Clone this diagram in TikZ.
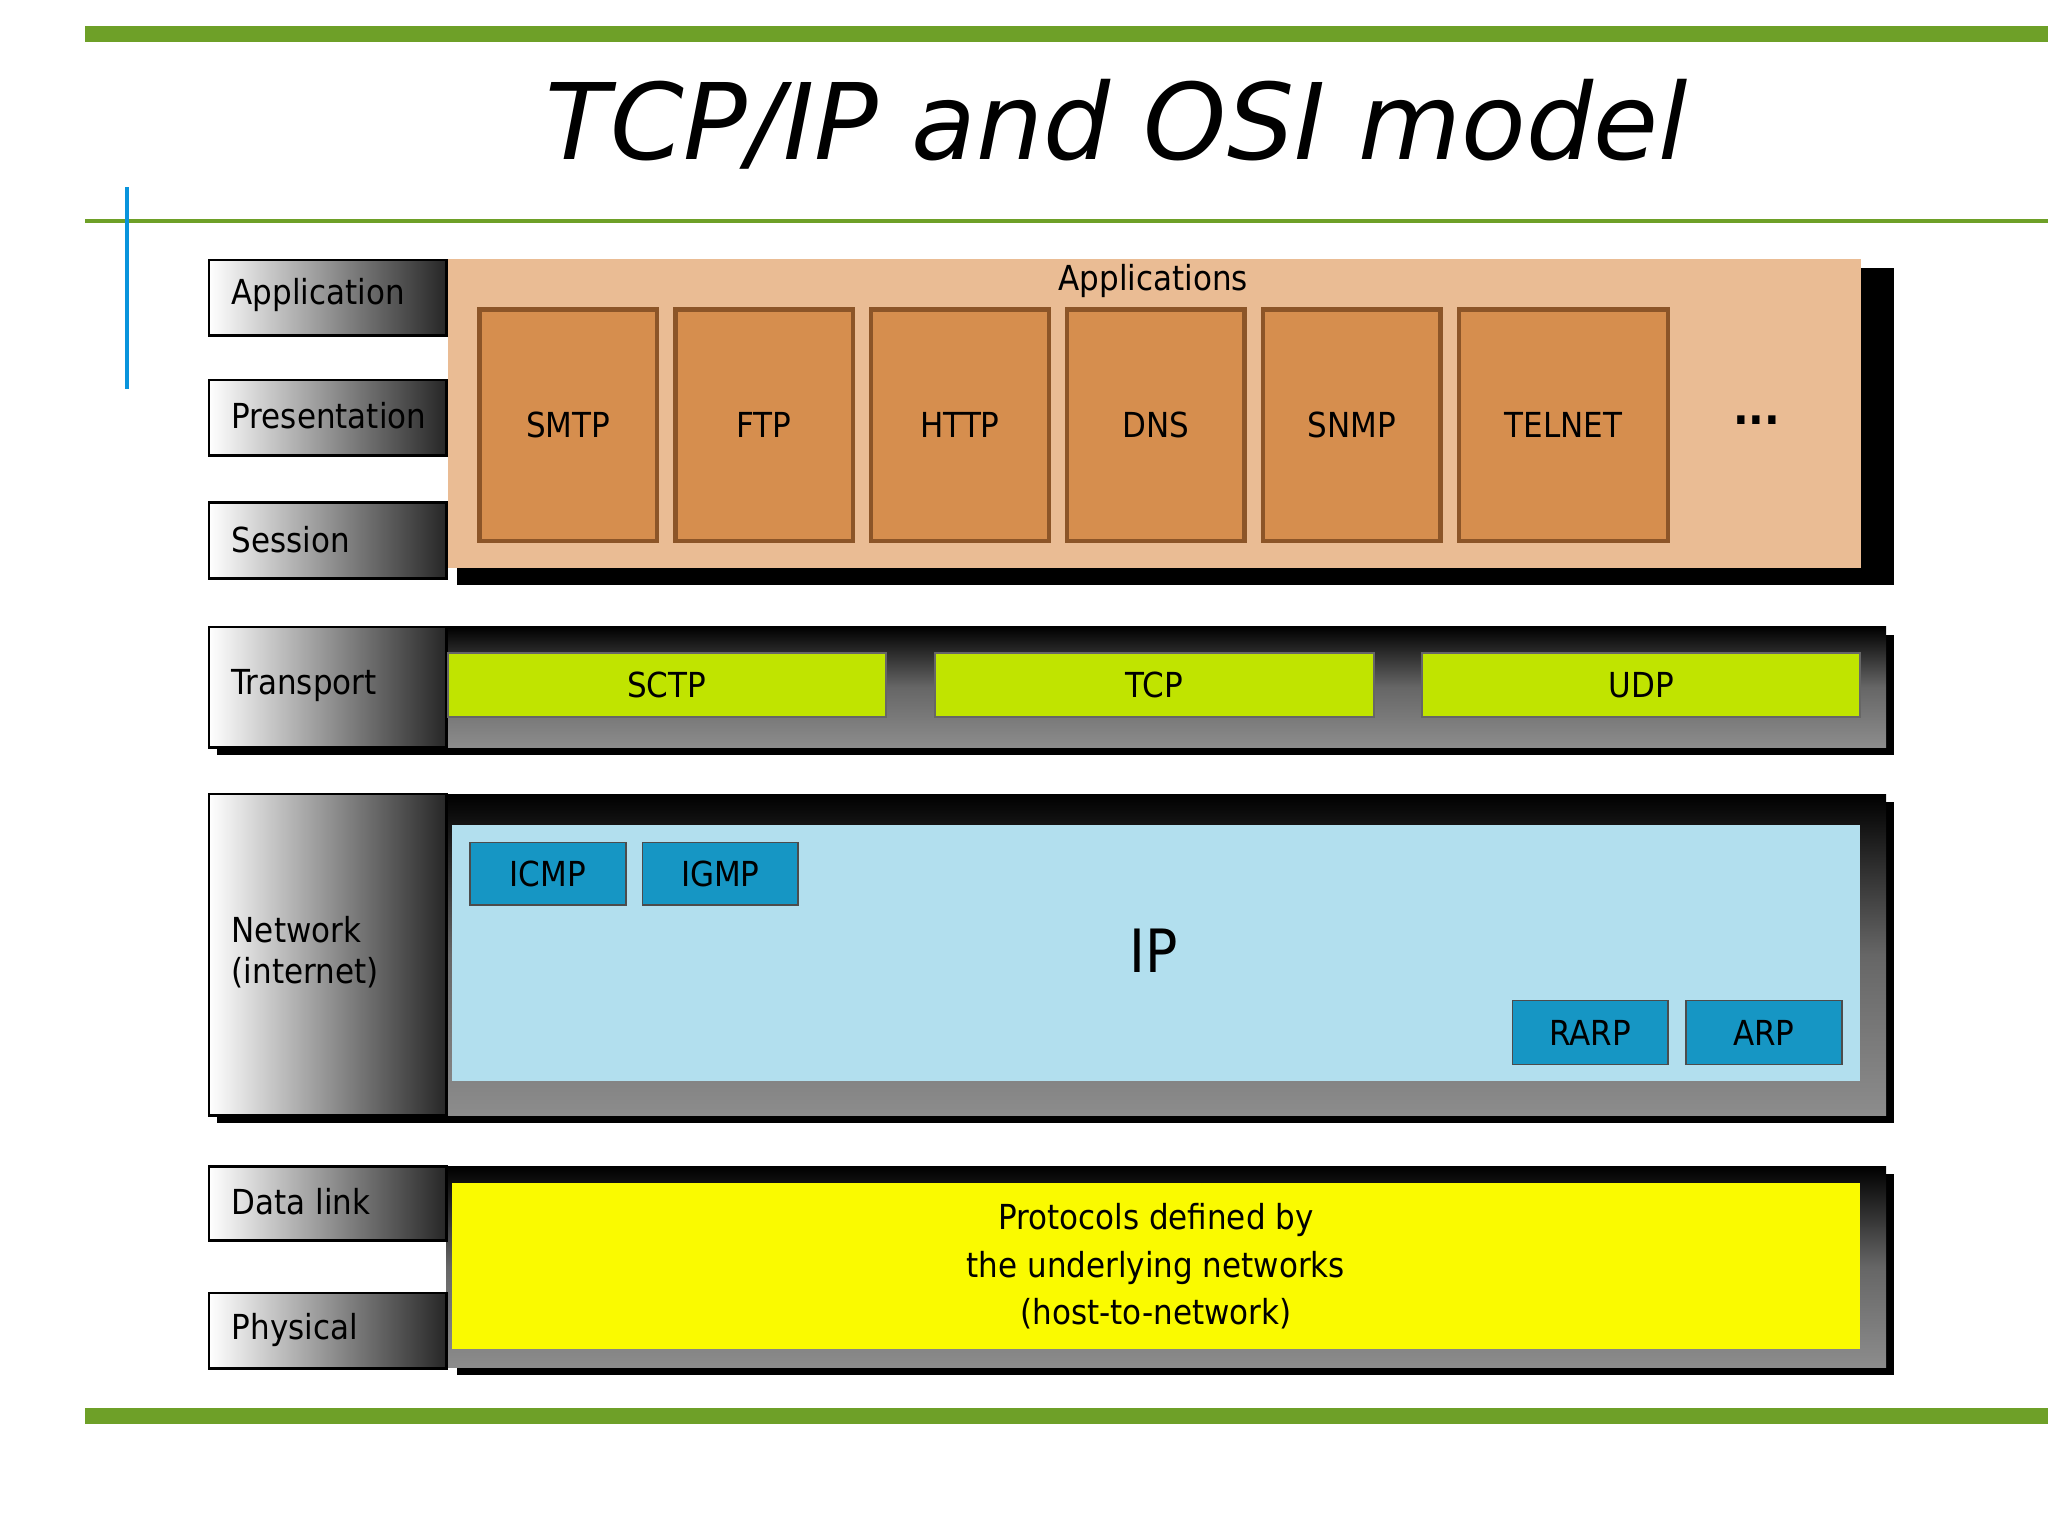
\documentclass[tikz,border=0pt]{standalone}
\usepackage{fontspec}
\setmainfont{DejaVu Sans Condensed}
\newfontfamily\titlefont{DejaVu Sans}
\definecolor{grn}{RGB}{110,160,40}
\definecolor{appbd}{RGB}{140,85,40}
\definecolor{appfill}{RGB}{214,142,78}
\definecolor{tan}{RGB}{234,188,148}
\definecolor{lime}{RGB}{192,228,0}
\definecolor{netfill}{RGB}{22,150,196}
\definecolor{ltblue}{RGB}{178,223,238}
\definecolor{yel}{RGB}{250,250,0}
\begin{document}
\begin{tikzpicture}[x=0.01cm,y=-0.01cm,
  lab/.style={anchor=west,font=\fontsize{7.5}{9}\selectfont},
  lbox/.style={left color=white,right color=black!85,draw=black,line width=0.6pt,inner sep=0},
  band/.style={top color=black,bottom color=black!45,middle color=black!60},
  shadow/.style={fill=black},
  appb/.style={draw=appbd,line width=1pt,fill=appfill,inner sep=0,font=\fontsize{7.5}{9}\selectfont},
  trb/.style={draw=black!60,fill=lime,inner sep=0,font=\fontsize{7.5}{9}\selectfont},
  netb/.style={draw=black!70,fill=netfill,inner sep=0,font=\fontsize{7.5}{9}\selectfont}]
\useasboundingbox (0,0) rectangle (1568,1176);
\fill[grn] (65,20) rectangle (1568,32);
\fill[grn] (65,168) rectangle (1568,171);
\fill[grn] (65,1078) rectangle (1568,1090);
\fill[cyan!80!blue] (96,143) rectangle (99,298);
\node[font=\titlefont\itshape\fontsize{23}{26}\selectfont] (title) at (855,95) {TCP/IP and OSI model};
% application group
\fill[shadow] (350,205) rectangle (1450,448);
\node[lbox,minimum width=1.82cm,minimum height=0.58cm] (la) at (251,228) {};
\node[lab] at (165,226) {Application};
\node[lbox,minimum width=1.82cm,minimum height=0.58cm] (lp) at (251,320) {};
\node[lab] at (165,318) {Presentation};
\node[lbox,minimum width=1.82cm,minimum height=0.58cm] (ls) at (251,414) {};
\node[lab] at (165,413) {Session};
\fill[tan] (343,198) rectangle (1425,435);
\node[font=\fontsize{7.5}{9}\selectfont] (apps) at (883,215) {Applications};
\node[appb,minimum width=1.36cm,minimum height=1.77cm] (smtp) at (435,325.5) {SMTP};
\node[appb,minimum width=1.36cm,minimum height=1.77cm] (ftp) at (585,325.5) {FTP};
\node[appb,minimum width=1.36cm,minimum height=1.77cm] (http) at (735,325.5) {HTTP};
\node[appb,minimum width=1.36cm,minimum height=1.77cm] (dns) at (885,325.5) {DNS};
\node[appb,minimum width=1.36cm,minimum height=1.77cm] (snmp) at (1035,325.5) {SNMP};
\node[appb,minimum width=1.60cm,minimum height=1.77cm] (telnet) at (1197,325.5) {TELNET};
\node[font=\bfseries\fontsize{10}{12}\selectfont] (dots) at (1345,322) {...};
% transport
\fill[shadow] (166,486) rectangle (1450,578);
\fill[band] (160,480) rectangle (1444,572);
\node[lbox,minimum width=1.82cm,minimum height=0.92cm] (lt) at (251,526) {};
\node[lab] at (165,525) {Transport};
\node[trb,minimum width=3.35cm,minimum height=0.49cm] (sctp) at (510.5,524.5) {SCTP};
\node[trb,minimum width=3.36cm,minimum height=0.49cm] (tcp) at (884,524.5) {TCP};
\node[trb,minimum width=3.35cm,minimum height=0.49cm] (udp) at (1256.5,524.5) {UDP};
% network
\fill[shadow] (166,614) rectangle (1450,860);
\fill[band] (160,608) rectangle (1444,854);
\node[lbox,minimum width=1.82cm,minimum height=2.46cm] (ln) at (251,731) {};
\node[lab,align=left] at (165,729) {Network\\(internet)};
\fill[ltblue] (346,632) rectangle (1424,828);
\node[font=\fontsize{13}{15}\selectfont] (ip) at (883,728) {IP};
\node[netb,minimum width=1.19cm,minimum height=0.48cm] (icmp) at (419.5,669) {ICMP};
\node[netb,minimum width=1.19cm,minimum height=0.48cm] (igmp) at (551.5,669) {IGMP};
\node[netb,minimum width=1.19cm,minimum height=0.49cm] (rarp) at (1217.5,790.5) {RARP};
\node[netb,minimum width=1.19cm,minimum height=0.49cm] (arp) at (1350.5,790.5) {ARP};
% data link
\fill[shadow] (350,899) rectangle (1450,1053);
\fill[band] (342,893) rectangle (1444,1047);
\node[lbox,minimum width=1.82cm,minimum height=0.57cm] (ld) at (251,921.5) {};
\node[lab] at (165,920) {Data link};
\node[lbox,minimum width=1.82cm,minimum height=0.58cm] (lph) at (251,1019) {};
\node[lab] at (165,1018) {Physical};
\node[fill=yel,minimum width=10.78cm,minimum height=1.27cm,inner sep=0,align=center,font=\fontsize{7.5}{10.3}\selectfont] (yelbox) at (885,969.5) {Protocols defined by\\the underlying networks\\(host-to-network)};
\end{tikzpicture}
\end{document}
